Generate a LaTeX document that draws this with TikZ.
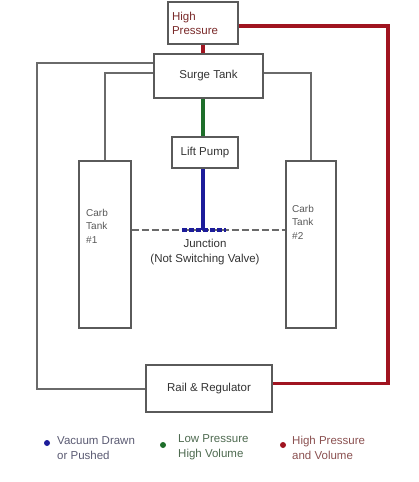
\documentclass[tikz,border=0pt]{standalone}
\usepackage{fontspec}
\setmainfont{Liberation Sans}
\usetikzlibrary{calc}

\definecolor{hpred}{HTML}{A01420}
\definecolor{lpgreen}{HTML}{1E6E2A}
\definecolor{vacblue}{HTML}{1C1C9A}
\definecolor{pipegray}{HTML}{6A6A6A}
\definecolor{boxgray}{HTML}{5A5A5A}
\definecolor{hptext}{HTML}{7A2A2A}
\definecolor{vactext}{HTML}{5A5A72}
\definecolor{lptext}{HTML}{4E6A50}
\definecolor{hplegtext}{HTML}{8A5050}

\begin{document}
\begin{tikzpicture}[x=1pt, y=-1pt,
	box/.style={draw=boxgray, line width=1.4pt, fill=white, inner sep=0pt, text=black!80, font=\fontsize{11.5}{14}\selectfont},
	pipe/.style={draw=pipegray, line width=2pt},
	hpline/.style={draw=hpred, line width=3.6pt},
	lpline/.style={draw=lpgreen, line width=4pt},
	vacline/.style={draw=vacblue, line width=4.5pt},
	dot/.style={circle, inner sep=0pt, minimum size=6pt},
	legend/.style={inner sep=0pt, align=left, anchor=west, font=\fontsize{11.5}{15.5}\selectfont},
	carbtext/.style={inner sep=0pt, align=left, anchor=west, text=black!65, font=\fontsize{10}{13.5}\selectfont}]
			%%%%% START %%%%%
			\useasboundingbox (0,0) rectangle (418,482);
			
			\node[box, minimum width=70pt, minimum height=42pt, text width=62pt, align=left, text=hptext] (hp) at (203,23) {High\\Pressure};
			\node[box, minimum width=109pt, minimum height=44pt] (surge) at (208.5,76) {Surge Tank};
			\node[box, minimum width=66pt, minimum height=31pt] (lift) at (205,152.5) {Lift Pump};
			
			\node[box, minimum width=52pt, minimum height=167pt] (carb1) at (105,244.5) {};
			\node[box, minimum width=50pt, minimum height=167pt] (carb2) at (311,244.5) {};
			\node[carbtext] (carb1txt) at (86,226) {Carb\\Tank\\\#1};
			\node[carbtext] (carb2txt) at (292,222) {Carb\\Tank\\\#2};
			
			\node[box, minimum width=126pt, minimum height=47pt] (rail) at (209,388.5) {Rail \& Regulator};
			
			\coordinate (junc) at (203,230);
			\node[inner sep=0pt, align=center, text=black!80, font=\fontsize{11.5}{15.5}\selectfont] (junctxt) at (205,252) {Junction\\(Not Switching Valve)};
			
			% gray return lines
			\draw[pipe] ([yshift=13pt]surge.west) -- ++(-116,0) |- (rail.west);
			\draw[pipe] ([yshift=3pt]surge.west) -| (carb1.north);
			\draw[pipe] ([yshift=3pt]surge.east) -| (carb2.north);
			\draw[pipe, line width=1.6pt, dash pattern=on 7pt off 3pt] (carb1.east |- junc) -- (carb2.west |- junc);
			
			% high pressure
			\draw[hpline] (hp.south) -- (hp.south |- surge.north);
			\draw[hpline] ([yshift=-3pt]hp.east) -- ++(149,0) |- ([yshift=5pt]rail.east);
			
			% low pressure
			\draw[lpline] (junc |- surge.south) -- (junc |- lift.north);
			
			% vacuum
			\draw[vacline] (junc |- lift.south) -- (junc);
			\draw[vacline, line width=3.4pt, dash pattern=on 5pt off 2pt] ([xshift=-21pt]junc) -- ([xshift=23pt]junc);
			
			% legend
			\node[dot, fill=vacblue] (vacdot) at (47,443) {};
			\node[legend, text=vactext] (vactxt) at (57,448) {Vacuum Drawn\\or Pushed};
			\node[dot, fill=lpgreen] (lpdot) at (163,445) {};
			\node[legend, text=lptext] (lptxt) at (178,447) {Low Pressure\\High Volume};
			\node[dot, fill=hpred] (hpdot) at (283,445) {};
			\node[legend, text=hplegtext] (hptxt) at (292,448) {High Pressure\\and Volume};
			
			%%%%% END %%%%%
\end{tikzpicture}
\end{document}
